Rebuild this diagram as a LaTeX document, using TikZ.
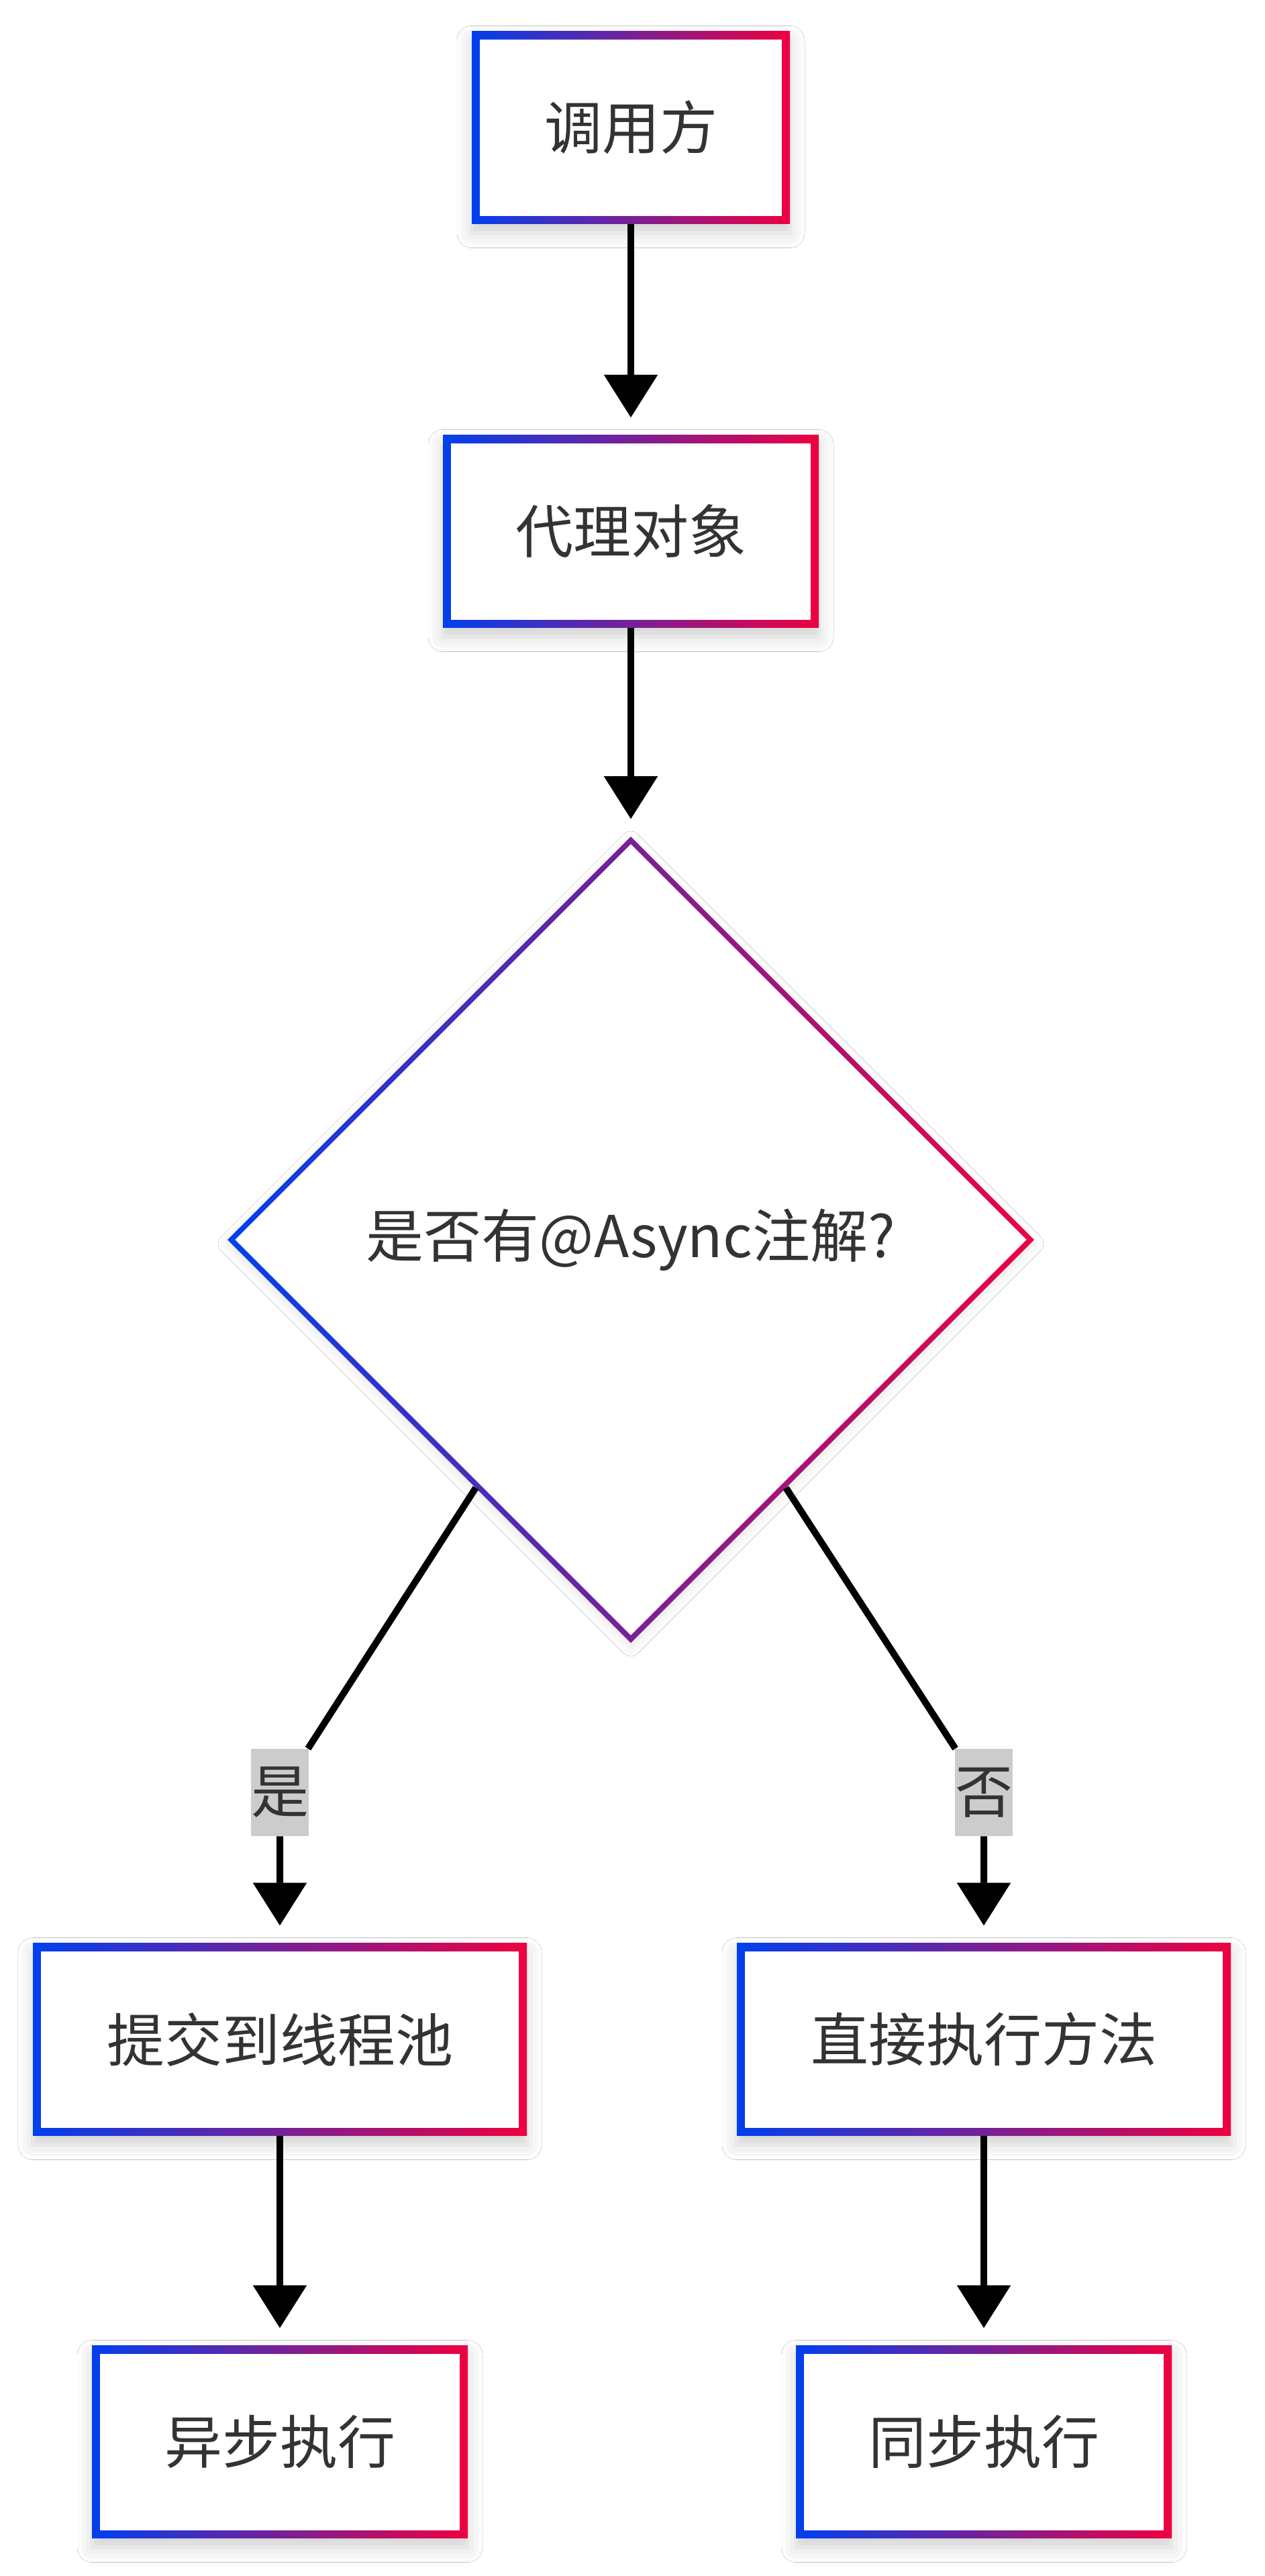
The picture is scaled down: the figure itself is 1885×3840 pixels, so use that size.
\documentclass[tikz,border=0pt]{standalone}
\usepackage{fontspec}
\setmainfont{Noto Sans CJK SC}
\usepackage{tikz}
\usetikzlibrary{arrows.meta, shapes.geometric, shadows.blur}
\usepackage{xcolor}

\definecolor{gradblue}{HTML}{0040EE}
\definecolor{gradred}{HTML}{EE0040}
\definecolor{labeltext}{HTML}{333333}
\definecolor{labelgray}{HTML}{CCCCCC}

\tikzset{
  flowbox/.style={rectangle, inner sep=0pt, outer sep=0pt,
    minimum width=#1, minimum height=143.5pt,
    left color=gradblue, right color=gradred, % gradient border
    blur shadow={shadow xshift=0pt, shadow yshift=-7pt, shadow blur radius=11pt, shadow opacity=18},
    path picture={\fill[white] ([shift={(6pt,-6pt)}]path picture bounding box.north west)
      rectangle ([shift={(-6pt,6pt)}]path picture bounding box.south east);},
    text=labeltext, font=\fontsize{43}{52}\selectfont},
  decision/.style={diamond, aspect=1, inner sep=0pt, outer sep=0pt,
    minimum width=601pt, minimum height=601pt,
    left color=gradblue, right color=gradred,
    blur shadow={shadow xshift=0pt, shadow yshift=-3pt, shadow blur radius=7pt, shadow opacity=10},
    path picture={\fill[white] ([yshift=-5.7pt]path picture bounding box.north)
      -- ([xshift=-5.7pt]path picture bounding box.east)
      -- ([yshift=5.7pt]path picture bounding box.south)
      -- ([xshift=5.7pt]path picture bounding box.west) -- cycle;},
    text=labeltext, font=\fontsize{43}{52}\selectfont},
  edgelabel/.style={rectangle, fill=labelgray, inner sep=0pt,
    minimum width=41.5pt, minimum height=65pt,
    text=labeltext, font=\fontsize{43}{52}\selectfont},
  conn/.style={line width=5pt, -{Triangle[width=39pt,length=32pt]}, shorten >=13pt}
}

\begin{document}
\begin{tikzpicture}[x=0.5pt, y=-0.5pt]
  \useasboundingbox (0,0) rectangle (1885,3840);
  \fill[white] (0,0) rectangle (1885,3840);

  % main column
  \node[flowbox=237pt] (caller) at (940,190) {调用方};
  \node[flowbox=280pt] (proxy) at (940,792) {代理对象};
  \node[decision] (hasasync) at (940,1848) {是否有@Async注解?};

  % branch labels
  \node[edgelabel] (yes) at (417,2672) {是};
  \node[edgelabel] (no) at (1466,2672) {否};

  % two branches
  \node[flowbox=368pt] (submit) at (417,3040) {提交到线程池};
  \node[flowbox=368pt] (direct) at (1466,3040) {直接执行方法};
  \node[flowbox=280pt] (async) at (417,3640) {异步执行};
  \node[flowbox=280pt] (sync) at (1466,3640) {同步执行};

  \draw[conn] (caller) -- (proxy);
  \draw[conn] (proxy) -- (hasasync);
  \draw[conn] (hasasync.238) -- (yes) -- (submit);
  \draw[conn] (hasasync.302) -- (no) -- (direct);
  \draw[conn] (submit) -- (async);
  \draw[conn] (direct) -- (sync);
\end{tikzpicture}
\end{document}
